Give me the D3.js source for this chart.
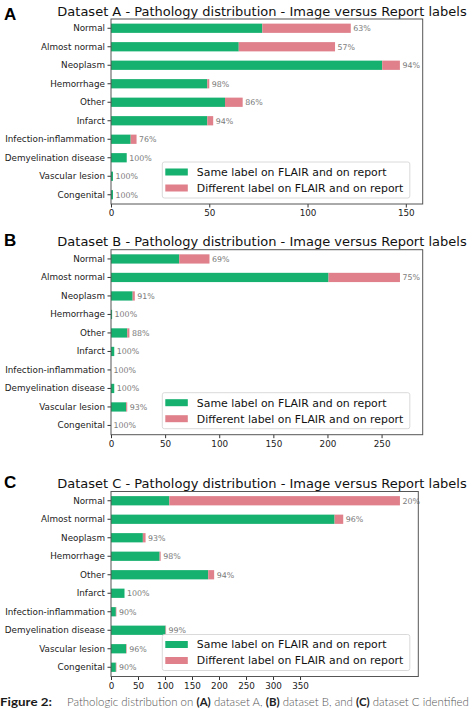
<!DOCTYPE html>
<html><head><meta charset="utf-8">
<script src="https://cdn.jsdelivr.net/npm/d3@7"></script>
<style>
html,body{margin:0;padding:0;background:#fff;overflow:hidden}
svg{display:block}
</style></head><body>
<svg id="c" width="474" height="709"></svg>
<script>
const categories = ["Normal","Almost normal","Neoplasm","Hemorrhage","Other","Infarct","Infection-inflammation","Demyelination disease","Vascular lesion","Congenital"];
const seriesNames = ["Same label on FLAIR and on report","Different label on FLAIR and on report"];

const sameA = [77,65,138,49,58,49,10,8,1,1];
const diffA = [45,49,9,1,9,3,3,0,0,0];
const pctA  = ["63%","57%","94%","98%","86%","94%","76%","100%","100%","100%"];
const ticksA = [0,50,100,150];

const sameB = [63,201,20,1,15,3,0,3,14,0];
const diffB = [28,66,2,0,2,0,0,0,1,0];
const pctB  = ["69%","75%","91%","100%","88%","100%","100%","100%","93%","100%"];
const ticksB = [0,50,100,150,200,250];

const sameC = [108,414,59,90,180,25,9,101,28,9];
const diffC = [427,16,5,2,11,0,1,1,1,1];
const pctC  = ["20%","96%","93%","98%","94%","100%","90%","99%","96%","90%"];
const ticksC = [0,50,100,150,200,250,300,350];

const titles = ["Dataset A - Pathology distribution - Image versus Report labels",
                "Dataset B - Pathology distribution - Image versus Report labels",
                "Dataset C - Pathology distribution - Image versus Report labels"];
const letters = ["A","B","C"];
const captionParts = [["Pathologic distribution on ",false],["(A)",true],[" dataset A, ",false],["(B)",true],[" dataset B, and ",false],["(C)",true],[" dataset C identified",false]];

const GREEN = "#16b06f", PINK = "#df808b";
const svg = d3.select("#c");
const FONT = "DejaVu Sans";

const panels = [
  {same:sameA, diff:diffA, pct:pctA, ticks:ticksA, xmax:158.6, top:19,  right:422.7, title:titles[0], letter:letters[0], titleY:16.3,  letterY:20},
  {same:sameB, diff:diffB, pct:pctB, ticks:ticksB, xmax:288,   top:249.7, right:422.7, title:titles[1], letter:letters[1], titleY:246.3, letterY:246},
  {same:sameC, diff:diffC, pct:pctC, ticks:ticksC, xmax:569,   top:491.5, right:418.3, title:titles[2], letter:letters[2], titleY:487.6, letterY:488}
];

panels.forEach(p => {
  const left = 111, h = 185, bottom = p.top + h;
  const x = d3.scaleLinear().domain([0, p.xmax]).range([left, p.right]);
  const y = d3.scaleBand().domain(categories).range([p.top, bottom]).paddingInner(0.5).paddingOuter(0.25);
  const g = svg.append("g");

  g.append("text").attr("x", 4).attr("y", p.letterY).text(p.letter)
    .attr("font-family","Liberation Sans").attr("font-weight","bold").attr("font-size",17).attr("fill","#000");
  g.append("text").attr("x", 262).attr("y", p.titleY).attr("text-anchor","middle").text(p.title)
    .attr("font-family",FONT).attr("font-size",13).attr("fill","#111");

  const rows = categories.map((c,i)=>({c, s:p.same[i], d:p.diff[i], pct:p.pct[i]}));
  g.selectAll(".s").data(rows).join("rect")
    .attr("x", x(0)).attr("y", d=>y(d.c)).attr("width", d=>x(d.s)-x(0)).attr("height", y.bandwidth()).attr("fill", GREEN);
  g.selectAll(".d").data(rows).join("rect")
    .attr("x", d=>x(d.s)).attr("y", d=>y(d.c)).attr("width", d=>x(d.s+d.d)-x(d.s)).attr("height", y.bandwidth()).attr("fill", PINK);
  g.selectAll(".p").data(rows).join("text")
    .attr("x", d=>x(d.s+d.d)+2.5).attr("y", d=>y(d.c)+y.bandwidth()/2).attr("dy","0.35em")
    .text(d=>d.pct).attr("font-family",FONT).attr("font-size",7.9).attr("fill","#7a7a7a");

  const ya = g.append("g").attr("transform",`translate(${left},0)`)
    .call(d3.axisLeft(y).tickSize(3.5).tickPadding(2.5));
  ya.select(".domain").remove();
  ya.selectAll("text").attr("font-family",FONT).attr("font-size",8.8).attr("fill","#222");
  ya.selectAll("line").attr("stroke","#333");

  const xa = g.append("g").attr("transform",`translate(0,${bottom})`)
    .call(d3.axisBottom(x).tickValues(p.ticks).tickFormat(d3.format("d")).tickSize(3.5).tickPadding(2.5));
  xa.select(".domain").remove();
  xa.selectAll("text").attr("font-family",FONT).attr("font-size",8.8).attr("fill","#222");
  xa.selectAll("line").attr("stroke","#333");

  g.append("rect").attr("x",left).attr("y",p.top).attr("width",p.right-left).attr("height",h)
    .attr("fill","none").attr("stroke","#555").attr("stroke-width",1);

  const lx = 162.3, lw = 247.5, lh = 36, ly = bottom - 6 - lh;
  const lg = g.append("g");
  lg.append("rect").attr("x",lx).attr("y",ly).attr("width",lw).attr("height",lh).attr("rx",2)
    .attr("fill","#fff").attr("fill-opacity",0.85).attr("stroke","#d0d0d0").attr("stroke-width",0.8);
  seriesNames.forEach((n,i)=>{
    const cy = ly + 10 + i*16;
    lg.append("rect").attr("x",lx+3).attr("y",cy-3.5).attr("width",22.5).attr("height",7).attr("fill", i===0?GREEN:PINK);
    lg.append("text").attr("x",lx+34.5).attr("y",cy).attr("dy","0.36em").text(n)
      .attr("font-family",FONT).attr("font-size",10.9).attr("fill","#111");
  });
});

// caption
const capY = 705.8;
const fig = svg.append("text").attr("x",0).attr("y",capY).text("Figure 2:")
  .attr("font-family","Lato").attr("font-weight","bold").attr("font-size",12).attr("fill","#1a1a1a")
  .attr("textLength", 52).attr("lengthAdjust","spacingAndGlyphs");
const cg = svg.append("g");
let cx = 0;
captionParts.forEach(([t,b])=>{
  const el = cg.append("text").attr("x",cx).attr("y",0).text(t)
    .attr("font-family","Lato").attr("font-weight", b?"bold":300).attr("font-size",11.5)
    .attr("fill", b?"#222":"#555").style("white-space","pre").attr("xml:space","preserve");
  cx += el.node().getComputedTextLength();
});
const sx = 402 / cx;
cg.attr("transform",`translate(67,${capY}) scale(${sx},1)`);
</script>
</body></html>
